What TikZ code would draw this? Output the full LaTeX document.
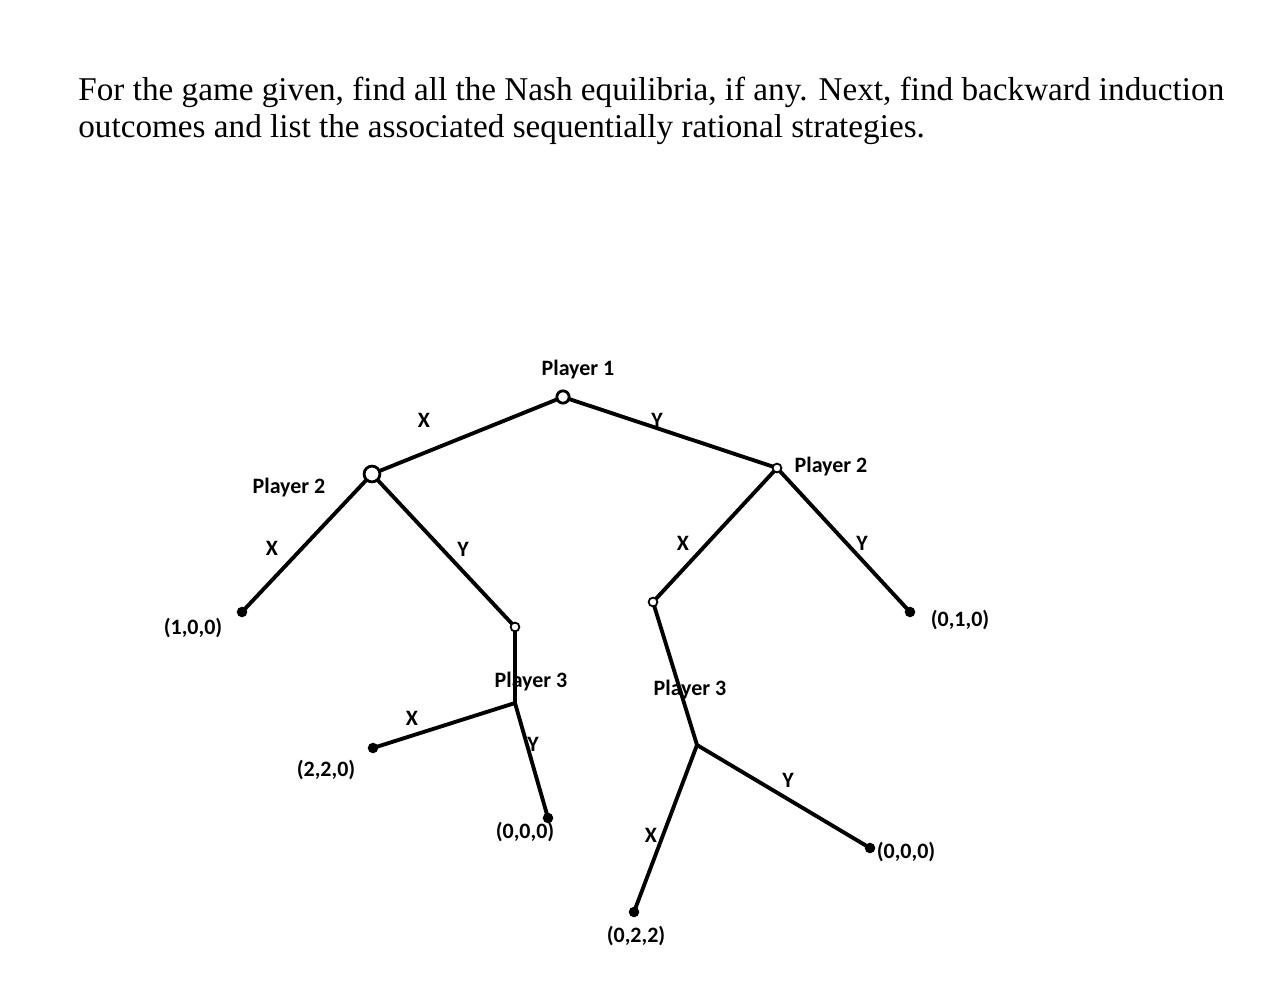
\documentclass[tikz,border=0pt]{standalone}
\usepackage{fontspec}
\setmainfont{Liberation Serif}
\newfontfamily\lbl{Carlito}
\begin{document}
\begin{tikzpicture}[x=0.02cm,y=-0.02cm,
  edge/.style={line width=2.2pt},
  opn/.style={circle,draw,line width=1.6pt,fill=white,inner sep=0pt,minimum size=7pt},
  cls/.style={circle,fill=black,inner sep=0pt,minimum size=6pt},
  lab/.style={font=\lbl\bfseries\fontsize{12.5}{14}\selectfont,inner sep=0pt}]
\useasboundingbox (0,0) rectangle (1270,982);
\node[anchor=west,inner sep=0pt,font=\fontsize{18.9}{22}\selectfont] (t1) at (78,92) {For the game given, find all the Nash equilibria, if any. Next, find backward induction};
\node[anchor=west,inner sep=0pt,font=\fontsize{18.9}{22}\selectfont] (t2) at (78,130) {outcomes and list the associated sequentially rational strategies.};
\coordinate (r) at (563,397);
\coordinate (a) at (372,474);
\coordinate (b) at (777,468);
\coordinate (l1) at (242,612);
\coordinate (a2) at (515,627);
\coordinate (p3) at (515,703);
\coordinate (l2) at (373,748);
\coordinate (l3) at (548,818);
\coordinate (b2) at (653,602);
\coordinate (q3) at (697,745);
\coordinate (l4) at (634,912);
\coordinate (l5) at (870,848);
\coordinate (l6) at (910,612);
\draw[edge] (r)--(a) (r)--(b) (a)--(l1) (a)--(a2)--(p3) (p3)--(l2) (p3)--(l3)
  (b)--(b2)--(q3) (q3)--(l4) (q3)--(l5) (b)--(l6);
\node[opn] (nr) at (r) {};
\node[opn,minimum size=9pt] (na) at (a) {};
\node[opn,minimum size=5pt,line width=1pt] (nb) at (b) {};
\node[opn,minimum size=5pt,line width=1pt] (na2) at (a2) {};
\node[opn,minimum size=5pt,line width=1pt] (nb2) at (b2) {};
\foreach \p in {l1,l2,l3,l4,l5,l6} \node[cls] (n\p) at (\p) {};
\node[lab] (lp1) at (578,370) {Player 1};
\node[lab] (lp2a) at (289,488) {Player 2};
\node[lab] (lp2b) at (831,467) {Player 2};
\node[lab] (lp3a) at (531,682) {Player 3};
\node[lab] (lp3b) at (690,690) {Player 3};
\node[lab] at (193,628) {(1,0,0)};
\node[lab] at (326,770) {(2,2,0)};
\node[lab] at (525,832) {(0,0,0)};
\node[lab] at (636,936) {(0,2,2)};
\node[lab] at (906,852) {(0,0,0)};
\node[lab] at (960,620) {(0,1,0)};
\node[lab] at (424,420) {X};
\node[lab] at (657,420) {Y};
\node[lab] at (272,548) {X};
\node[lab] at (463,549) {Y};
\node[lab] at (683,543) {X};
\node[lab] at (862,543) {Y};
\node[lab] at (412,718) {X};
\node[lab] at (533,744) {Y};
\node[lab] at (788,780) {Y};
\node[lab] at (651,835) {X};
\end{tikzpicture}
\end{document}
